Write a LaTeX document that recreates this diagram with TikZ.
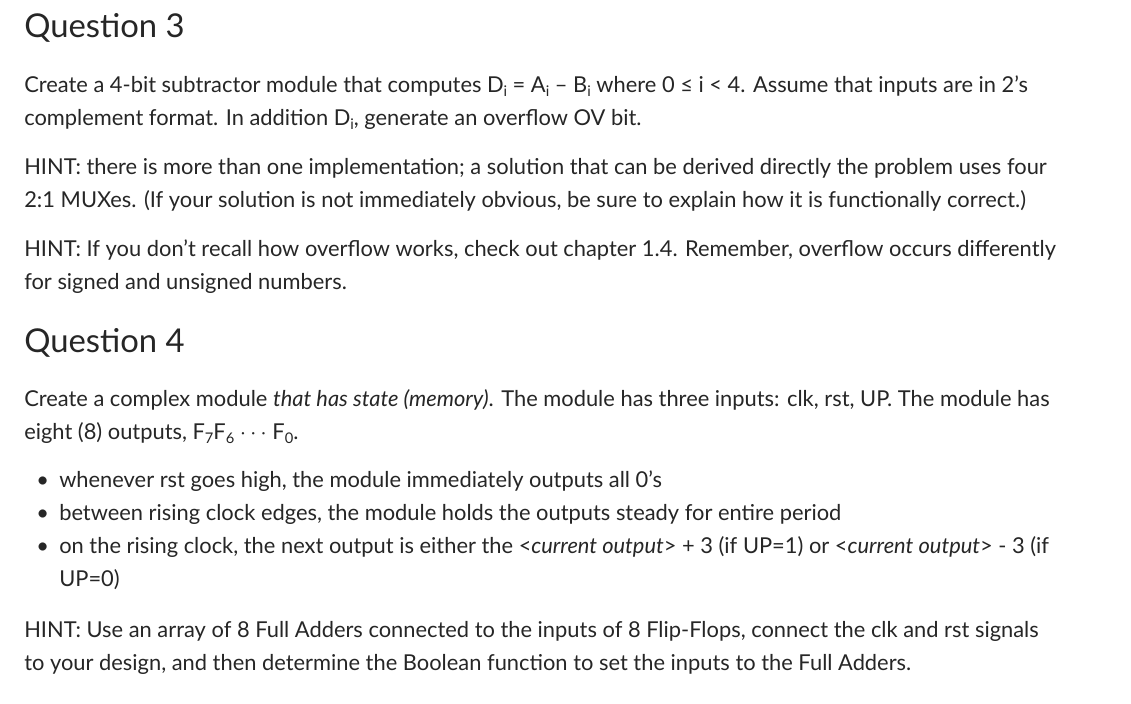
\documentclass[tikz,border=0pt]{standalone}
\usepackage{fontspec}
\setmainfont{Lato}
\newcommand\mysb[1]{\raisebox{-0.4ex}{\fontsize{11}{12}\selectfont #1}}
\begin{document}
\begin{tikzpicture}[x=0.75pt,y=-0.75pt,
  body/.style={anchor=base west,inner sep=0pt,font=\fontsize{16.4}{19}\selectfont,text=black!85},
  title/.style={anchor=base west,inner sep=0pt,font=\fontsize{24.6}{28}\selectfont,text=black!85}]
\useasboundingbox[fill=white] (0,0) rectangle (1131,703);
\node[title] (q3) at (24,37) {Question 3};
\node[body] (l1) at (24,92) {Create a 4-bit subtractor module that computes D\mysb{i} = A\mysb{i} -- B\mysb{i} where 0 ≤ i < 4. Assume that inputs are in 2’s};
\node[body] (l2) at (24,125) {complement format. In addition D\mysb{i}, generate an overflow OV bit.};
\node[body] (l3) at (24,174) {HINT: there is more than one implementation; a solution that can be derived directly the problem uses four};
\node[body] (l4) at (24,207) {2:1 MUXes. (If your solution is not immediately obvious, be sure to explain how it is functionally correct.)};
\node[body] (l5) at (24,256) {HINT: If you don\char"0027t recall how overflow works, check out chapter 1.4. Remember, overflow occurs differently};
\node[body] (l6) at (24,289) {for signed and unsigned numbers.};
\node[title] (q4) at (24,352) {Question 4};
\node[body] (m1) at (24,406) {Create a complex module \textit{that has state (memory)}. The module has three inputs: clk, rst, UP. The module has};
\node[body] (m2) at (24,439) {eight (8) outputs, F\mysb{7}F\mysb{6} $\cdots$ F\mysb{0}.};
\node[body] (b1) at (36,487) {•};
\node[body] (t1) at (59,487) {whenever rst goes high, the module immediately outputs all 0’s};
\node[body] (b2) at (36,520) {•};
\node[body] (t2) at (59,520) {between rising clock edges, the module holds the outputs steady for entire period};
\node[body] (b3) at (36,553) {•};
\node[body] (t3) at (59,553) {on the rising clock, the next output is either the <\textit{current output}> + 3 (if UP=1) or <\textit{current output}> - 3 (if};
\node[body] (t4) at (59,586) {UP=0)};
\node[body] (h1) at (24,637) {HINT: Use an array of 8 Full Adders connected to the inputs of 8 Flip-Flops, connect the clk and rst signals};
\node[body] (h2) at (24,670) {to your design, and then determine the Boolean function to set the inputs to the Full Adders.};
\end{tikzpicture}
\end{document}
